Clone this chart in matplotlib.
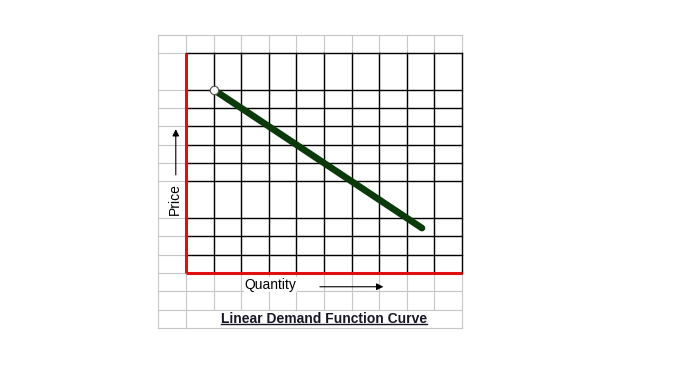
import numpy as np
import matplotlib.pyplot as plt

# данные: линейная функция спроса P = 11 - Q
quantity = [1.0, 8.55]
price = [10.0, 2.45]

# линии сетки (как в листе excel)
grid_cols = np.arange(-1, 11)               # вертикальные линии
grid_rows = [-3, -2, -1, 0, 1, 2, 3, 5, 6, 7, 8, 9, 10, 12, 13]  # горизонтальные, строки разной высоты
black_rows = [r for r in grid_rows if 0 <= r <= 12]

title = 'Linear Demand Function Curve'
x_label = 'Quantity'
y_label = 'Price'

fig = plt.figure(figsize=(6.83, 3.84), dpi=100)
ax = fig.add_axes([0, 0, 1, 1])
# масштаб: одна клетка по x = 27.6 px, по y = 18.33 px, начало координат в (186, 273) px
ax.set_xlim(-186 / 27.6, (683 - 186) / 27.6)
ax.set_ylim((273 - 384) / 18.33, 273 / 18.33)
ax.axis('off')

grey = '#c6c6c6'
# серая сетка листа
for c in grid_cols:
    top = 13
    bottom = -2 if 0 < c < 10 else -3  # в последней строке ячейки объединены
    ax.plot([c, c], [bottom, top], color=grey, lw=0.8, zorder=1)
for r in grid_rows:
    ax.plot([-1, 10], [r, r], color=grey, lw=0.8, zorder=1)

# черная сетка графика
for c in grid_cols[grid_cols >= 1]:
    ax.plot([c, c], [0, 12], color='black', lw=1.0, zorder=2)
for r in black_rows[1:]:
    ax.plot([0, 10], [r, r], color='black', lw=1.0, zorder=2)

# красные оси
ax.plot([0, 0], [0, 12], color='#e01010', lw=2.2, zorder=3, solid_capstyle='butt')
ax.plot([0, 10], [0, 0], color='#e01010', lw=2.2, zorder=3, solid_capstyle='butt')

# кривая спроса
ax.plot(quantity, price, color='#0a3a0a', lw=4.8, solid_capstyle='round', zorder=4)
ax.plot(quantity[0], price[0], marker='o', ms=6, mfc='white', mec='#555555', mew=0.8, zorder=5)

font = 'Liberation Sans'
# подпись Quantity со стрелкой
ax.text(3.05, -0.63, x_label, fontsize=10, family=font, ha='center', va='center', zorder=6,
        bbox=dict(facecolor='white', edgecolor='none', pad=0.5))
ax.annotate('', xy=(7.25, -0.75), xytext=(4.75, -0.75),
            arrowprops=dict(arrowstyle='-|>', color='black', lw=0.8, mutation_scale=10), zorder=6)

# подпись Price со стрелкой
ax.text(-0.42, 4.05, y_label, fontsize=10, family=font, rotation=90, ha='center', va='center', zorder=6,
        bbox=dict(facecolor='white', edgecolor='none', pad=0.5))
ax.annotate('', xy=(-0.37, 8.0), xytext=(-0.37, 5.2),
            arrowprops=dict(arrowstyle='-|>', color='black', lw=0.8, mutation_scale=10), zorder=6)

# заголовок с подчеркиванием
t = ax.text(5.0, -2.5, title, fontsize=10, family=font, weight='bold', color='#161626',
            ha='center', va='center', zorder=6)
fig.canvas.draw()
bb = t.get_window_extent().transformed(ax.transData.inverted())
ax.plot([bb.x0, bb.x1], [bb.y0 + 0.08, bb.y0 + 0.08], color='#161626', lw=1.0, zorder=6)

fig.savefig('out.png', dpi=100)
